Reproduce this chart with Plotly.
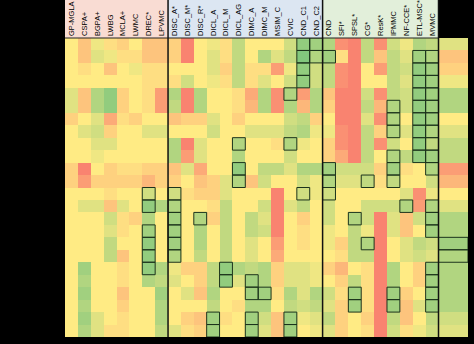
import plotly.graph_objects as go

# ---- data -------------------------------------------------------------
columns = ["GP-MGLA", "CSPA+", "BGPA+", "LWBG", "MCLA+", "LWMC", "DREC*", "LPVMC",
           "DISC_A*", "DISC_M*", "DISC_R*", "DICL_A", "DICL_M", "DICL_AG", "DIMC_A",
           "DIMC_M", "MSIM_C", "CVIC", "CND_C1", "CND_C2",
           "CND", "SFI*", "SPSL*", "CG*", "ResK*", "IPMMC", "NF-CCE*", "ETL-MSC*", "MVMC",
           ""]
group_sizes = [8, 12, 9]  # column groups (ensemble / clustering / other)

# score per cell (0 = worst/red, 5 = middle/yellow, 10 = best/green)
values = [
    [5, 3.5, 5.5, 4.5, 4, 5, 3.5, 3.5, 4, 1, 5, 5.5, 4.5, 7, 5, 5, 5, 6.5, 8.5, 8, 7.5, 1.5, 1, 7, 1.5, 6.5, 5.5, 7.5, 7, 6],
    [5, 3.5, 6, 5.5, 4.5, 4.5, 3.5, 3.5, 4, 1, 5, 6, 4.5, 7, 5, 7.5, 6, 7, 9, 7.5, 8, 4.5, 1, 7, 3.5, 7, 6, 8, 7.5, 3.5],
    [5, 4.5, 5, 3.5, 5, 5.5, 4.5, 4.5, 5, 5, 5, 6, 4, 7, 4.5, 4.5, 2, 5.5, 8.5, 6.5, 7, 1.5, 1, 5, 2, 7, 6.5, 8.5, 8, 4],
    [5, 5, 5, 5, 5, 5, 4.5, 4.5, 4.5, 6.5, 5, 5.5, 4.5, 7, 4.5, 6, 5, 6.5, 8.5, 6.5, 7, 1.5, 1, 5, 5, 7, 6, 8.5, 8, 5.5],
    [6, 3.5, 7.5, 8.5, 4, 5, 4.5, 2, 7.5, 1, 7.5, 5, 5, 4.5, 2.5, 7.5, 1.5, 7.5, 2, 7.5, 3.5, 1, 1, 6.5, 1.5, 7, 6.5, 8.5, 8, 7.5],
    [6, 3.5, 7.5, 8.5, 4, 5, 4.5, 2, 7, 1, 7.5, 5, 5, 4.5, 3, 7.5, 1.5, 7.5, 3, 7.5, 4, 1, 1, 7, 3, 7.5, 6.5, 8.5, 8, 7.5],
    [4, 5, 6, 2.5, 4.5, 4, 5, 5, 3.5, 4, 4, 6, 5, 4, 5, 5, 5, 6.5, 7, 4, 5, 1, 1, 6, 1.5, 7.5, 5, 8.5, 8, 5],
    [5, 6, 6.5, 4, 5, 5, 6, 6, 5, 5, 5, 6.5, 5, 5, 6, 6, 6, 7, 7.5, 5.5, 5.5, 1.5, 1, 7, 4, 7.5, 6, 8.5, 7.5, 6],
    [5, 5, 6, 6, 5, 5, 5, 5, 7.5, 1, 6, 5, 5, 7.5, 5, 5, 4.5, 7.5, 5.5, 5, 4, 1.5, 1, 7, 1.5, 6.5, 5, 8.5, 7, 7],
    [5, 5, 5.5, 5, 5, 5, 5, 5, 7.5, 2, 6, 5, 5, 7.5, 5, 5, 5, 6.5, 5, 5, 4, 2.5, 1, 7, 5, 7.5, 7, 8.5, 8, 7],
    [4, 1, 5, 4, 4.5, 4.5, 4, 4, 3.5, 6, 2.5, 5, 5, 8.5, 5, 7, 7, 6, 7.5, 7.5, 8, 6.5, 6.5, 6.5, 4, 8, 4.5, 5, 7.5, 2],
    [4, 2, 4, 4, 4, 4, 3, 4, 4, 5, 3.5, 4, 6, 7.5, 3.5, 6.5, 5, 5, 6.5, 5.5, 7.5, 6, 6, 7, 4.5, 7, 5, 5, 6.5, 3],
    [5, 5, 5, 4.5, 5, 5, 6.5, 5, 6.5, 4.5, 4, 4, 6, 5, 5, 5, 1, 5, 6.5, 5.5, 6.5, 5, 5, 5, 5, 5, 6, 1.5, 5.5, 5],
    [5, 6, 6, 3.5, 6, 5, 8.5, 7.5, 7.5, 5, 5, 4.5, 7, 5, 5, 6.5, 1, 6, 7, 5, 6.5, 5, 5, 6.5, 6.5, 6.5, 7.5, 2, 7.5, 6],
    [5, 5, 5, 6.5, 4.5, 4, 7.5, 5, 8, 5, 7.5, 4, 7, 5, 7, 6, 1, 5, 4, 5, 6.5, 5, 7.5, 6.5, 1, 6, 3.5, 6.5, 8, 7.5],
    [5, 5, 5, 6, 4.5, 5, 8, 5, 8, 5, 7.5, 5, 7, 5, 7, 6.5, 1, 5, 4.5, 5, 5.5, 5, 7, 5.5, 1, 6, 3.5, 5, 8, 7.5],
    [5, 5, 5, 7, 5, 5, 8.5, 5, 8, 5, 7.5, 5, 7, 5, 6, 5, 2, 5, 4.5, 5, 5.5, 4, 7, 7.5, 1, 5, 6, 7, 6.5, 8],
    [5, 5, 5, 7, 3.5, 5, 8.5, 5, 7.5, 5, 7, 5, 7, 5, 6, 5, 2.5, 5, 5, 5, 5, 4.5, 7, 7, 1, 5, 6, 6.5, 6, 7.5],
    [5, 8, 5, 5, 4.5, 5, 8.5, 7.5, 5.5, 4, 4, 7, 8.5, 7.5, 7, 7.5, 4, 6, 6, 5.5, 4, 3, 5, 4.5, 1, 7.5, 5, 4, 8, 7.5],
    [5, 7.5, 5, 5, 4.5, 5, 7.5, 7, 6, 5, 4, 7, 8.5, 6, 8, 7.5, 4, 6, 6, 5.5, 5, 4, 7, 4.5, 1, 7.5, 5, 4, 8, 7.5],
    [5, 8, 5, 5, 3.5, 5, 5, 8, 5, 6, 3.5, 7.5, 5, 5, 8, 8, 4.5, 7.5, 6, 7.5, 6.5, 4.5, 8, 4.5, 1, 8, 4, 5, 8, 7.5],
    [5, 7.5, 5, 5, 4, 5, 5, 7.5, 5, 5, 5, 7, 5, 4.5, 7.5, 7.5, 5, 7, 6.5, 7, 6, 4, 8, 4.5, 1, 8, 3.5, 6, 8, 7.5],
    [5, 8, 6, 5, 4.5, 5, 5, 7.5, 5, 4, 3.5, 8, 4.5, 5, 8, 6.5, 3.5, 8, 5.5, 6, 7, 4, 5, 4, 1, 7, 3.5, 5, 7, 6.5],
    [5, 7.5, 6, 4.5, 4.5, 5, 5, 7, 6, 4.5, 4, 8, 5, 5, 8, 6, 3.5, 8, 5, 5.5, 6, 4, 5, 4.5, 1, 6.5, 4.5, 5.5, 6.5, 6],
]

# highlighted (outlined) cells: column index -> list of row indices
boxed = {
    6: [12, 13, 15, 16, 17, 18],
    8: [12, 13, 14, 15, 16, 17],
    10: [14],
    11: [22, 23],
    12: [18, 19],
    13: [8, 10, 11],
    14: [19, 20, 22, 23],
    15: [20],
    17: [4, 8, 22, 23],
    18: [0, 1, 2, 3, 12],
    19: [0, 1],
    20: [1, 10, 11, 12],
    22: [14, 20, 21],
    23: [11, 16],
    25: [5, 6, 7, 9, 10, 11, 20, 21],
    26: [13],
    27: [1, 2, 3, 4, 5, 6, 7, 8, 9],
    28: [1, 2, 3, 4, 5, 6, 7, 8, 9, 10, 13, 14, 15, 18, 19, 20, 21],
    29: [16, 17],
}

# ---- geometry / style ---------------------------------------------------
LAST_W = 2.29              # relative width of the last (summary) column
n_rows = len(values)
n_cols = len(columns)
x_edges = list(range(n_cols)) + [n_cols - 1 + LAST_W]
y_edges = list(range(n_rows + 1))
x_max = x_edges[-1]

W, H = 474, 344
M_L, M_R, M_T, M_B = 65, 6, 38, 7
plot_h = H - M_T - M_B
head_top = 1 + M_T / plot_h

colorscale = [[0, "#F8696B"], [0.5, "#FFEB84"], [1, "#63BE7B"]]
group_colors = ["#F9DCD3", "#DCE6F2", "#E2EFDA"]

fig = go.Figure(go.Heatmap(
    z=values, x=x_edges, y=y_edges,
    colorscale=colorscale, zmin=0, zmax=10,
    showscale=False, hoverinfo="skip",
))

shapes = []
# header bands
start = 0
bounds = [0]
for size, col in zip(group_sizes, group_colors):
    shapes.append(dict(type="rect", xref="x", yref="paper",
                       x0=start, x1=start + size, y0=1, y1=head_top + 0.05,
                       fillcolor=col, line_width=0, layer="below"))
    start += size
    bounds.append(start)

# outlined cells
for c, rows in boxed.items():
    for r in rows:
        shapes.append(dict(type="rect", xref="x", yref="y",
                           x0=x_edges[c], x1=x_edges[c + 1], y0=r, y1=r + 1,
                           line=dict(color="#1C331C", width=1),
                           fillcolor="rgba(0,0,0,0)", layer="above"))

# header bottom line
shapes.append(dict(type="line", xref="x", yref="paper", x0=0, x1=bounds[-1],
                   y0=1, y1=1, line=dict(color="#222222", width=1), layer="above"))
# group separators
for b in bounds[1:]:
    shapes.append(dict(type="line", xref="x", yref="paper", x0=b, x1=b,
                       y0=0, y1=head_top + 0.05,
                       line=dict(color="#111111", width=1.5), layer="above"))

centers = [(x_edges[i] + x_edges[i + 1]) / 2 for i in range(n_cols)]

fig.update_layout(
    width=W, height=H,
    margin=dict(l=M_L, r=M_R, t=M_T, b=M_B, pad=0, autoexpand=False),
    paper_bgcolor="black", plot_bgcolor="black",
    shapes=shapes,
    xaxis=dict(side="top", range=[0, x_max], tickmode="array",
               tickvals=centers[:-1], ticktext=columns[:-1],
               tickangle=-90, ticks="", showgrid=False, zeroline=False,
               showline=False, automargin=False, ticklabelstandoff=1,
               tickfont=dict(family="Liberation Sans, Arial",
                             size=7.5, color="black")),
    yaxis=dict(range=[n_rows, 0], showticklabels=False, ticks="",
               showgrid=False, zeroline=False, showline=False, automargin=False),
)

fig.write_html("out.html")
